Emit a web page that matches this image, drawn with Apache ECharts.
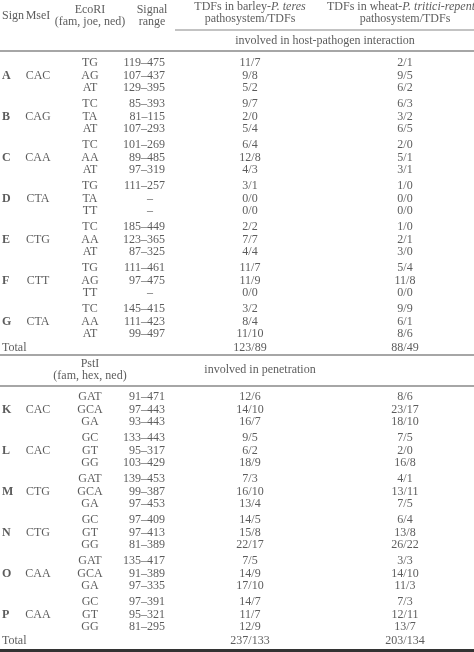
<!DOCTYPE html><html><head><meta charset="utf-8">
<script src="https://cdn.jsdelivr.net/npm/echarts@6/dist/echarts.min.js"></script>
<style>html,body{margin:0;padding:0;background:#fff}#c{width:474px;height:652px}</style></head><body><div id="c"></div>
<script>
const signs1=['A','B','C','D','E','F','G'];
const msei1=['CAC','CAG','CAA','CTA','CTG','CTT','CTA'];
const eco1=[['TG','AG','AT'],['TC','TA','AT'],['TC','AA','AT'],['TG','TA','TT'],['TC','AA','AT'],['TG','AG','TT'],['TC','AA','AT']];
const range1=[['119–475','107–437','129–395'],['85–393','81–115','107–293'],['101–269','89–485','97–319'],['111–257','–','–'],['185–449','123–365','87–325'],['111–461','97–475','–'],['145–415','111–423','99–497']];
const barley1=[['11/7','9/8','5/2'],['9/7','2/0','5/4'],['6/4','12/8','4/3'],['3/1','0/0','0/0'],['2/2','7/7','4/4'],['11/7','11/9','0/0'],['3/2','8/4','11/10']];
const wheat1=[['2/1','9/5','6/2'],['6/3','3/2','6/5'],['2/0','5/1','3/1'],['1/0','0/0','0/0'],['1/0','2/1','3/0'],['5/4','11/8','0/0'],['9/9','6/1','8/6']];
const total1=['123/89','88/49'];
const signs2=['K','L','M','N','O','P'];
const msei2=['CAC','CAC','CTG','CTG','CAA','CAA'];
const pst2=[['GAT','GCA','GA'],['GC','GT','GG'],['GAT','GCA','GA'],['GC','GT','GG'],['GAT','GCA','GA'],['GC','GT','GG']];
const range2=[['91–471','97–443','93–443'],['133–443','95–317','103–429'],['139–453','99–387','97–453'],['97–409','97–413','81–389'],['135–417','91–389','97–335'],['97–391','95–321','81–295']];
const barley2=[['12/6','14/10','16/7'],['9/5','6/2','18/9'],['7/3','16/10','13/4'],['14/5','15/8','22/17'],['7/5','14/9','17/10'],['14/7','11/7','12/9']];
const wheat2=[['8/6','23/17','18/10'],['7/5','2/0','16/8'],['4/1','13/11','7/5'],['6/4','13/8','26/22'],['3/3','14/10','11/3'],['7/3','12/11','13/7']];
const total2=['237/133','203/134'];

const X={sign:2,mse:38,eco:90,rng:165,rngC:150,bar:250,whe:405};
const RH=12.5,GP=41;
const cells=[];
function add(x,y,t,align,extra){cells.push({value:[x,y],label:Object.assign({formatter:t,align:align||'center'},extra||{})});}
add(X.sign,16,'Sign','left');add(X.mse,16,'MseI');
add(X.eco,10,'EcoRI');add(X.eco,22,'(fam, joe, ned)');
add(X.rngC+2,10,'Signal');add(X.rngC+2,22,'range');
add(X.bar,7,'TDFs in barley-{i|P. teres}');add(X.bar,19,'pathosystem/TDFs');
add(X.whe,7,'TDFs in wheat-{i|P. tritici-repentis}');add(X.whe,19,'pathosystem/TDFs');
add(325,41,'involved in host-pathogen interaction');
function block(y0,signs,mse,eco,rng,bar,whe){
  signs.forEach((s,g)=>{
    const yg=y0+g*GP;
    add(X.sign,yg+RH,s,'left',{fontWeight:'bold'});
    add(X.mse,yg+RH,mse[g]);
    for(let r=0;r<3;r++){
      const y=yg+r*RH;
      add(X.eco,y,eco[g][r]);
      if(rng[g][r]==='–')add(X.rngC,y,'–');else add(X.rng,y,rng[g][r],'right');
      add(X.bar,y,bar[g][r]);add(X.whe,y,whe[g][r]);
    }
  });
  return y0+(signs.length-1)*GP+2*RH+14;
}
const yT1=block(63,signs1,msei1,eco1,range1,barley1,wheat1);
add(X.sign,yT1,'Total','left');add(X.bar,yT1,total1[0]);add(X.whe,yT1,total1[1]);
const l1=yT1+7;
add(X.eco,l1+9,'PstI');add(X.eco,l1+21,'(fam, hex, ned)');
add(X.bar+10,l1+15,'involved in penetration');
const l2=l1+31;
const yT2=block(l2+11,signs2,msei2,pst2,range2,barley2,wheat2);
add(X.sign,yT2,'Total','left');add(X.bar,yT2,total2[0]);add(X.whe,yT2,total2[1]);

const chart=echarts.init(document.getElementById('c'),null,{renderer:'canvas'});
const ln=(x1,y1,x2,y2,w,c)=>({type:'line',shape:{x1,y1,x2,y2},style:{stroke:c||'#888',lineWidth:w||1.2}});
chart.setOption({animation:false,
 grid:{left:0,right:0,top:0,bottom:0},
 xAxis:{type:'value',min:0,max:474,show:false},
 yAxis:{type:'value',min:0,max:652,inverse:true,show:false},
 graphic:[ln(175,30,474,30),ln(0,51,474,51,1.5),ln(0,l1,474,l1,1.5),ln(0,l2,474,l2,1.5),ln(0,650.5,474,650.5,3,'#333')],
 series:[{type:'scatter',symbolSize:0,data:cells,
  label:{show:true,position:'inside',verticalAlign:'middle',fontFamily:'Liberation Serif, DejaVu Serif, serif',fontSize:12,color:'#333',
   rich:{i:{fontStyle:'italic',fontFamily:'Liberation Serif, DejaVu Serif, serif',fontSize:12,color:'#333'}}}}]
});
</script></body></html>
